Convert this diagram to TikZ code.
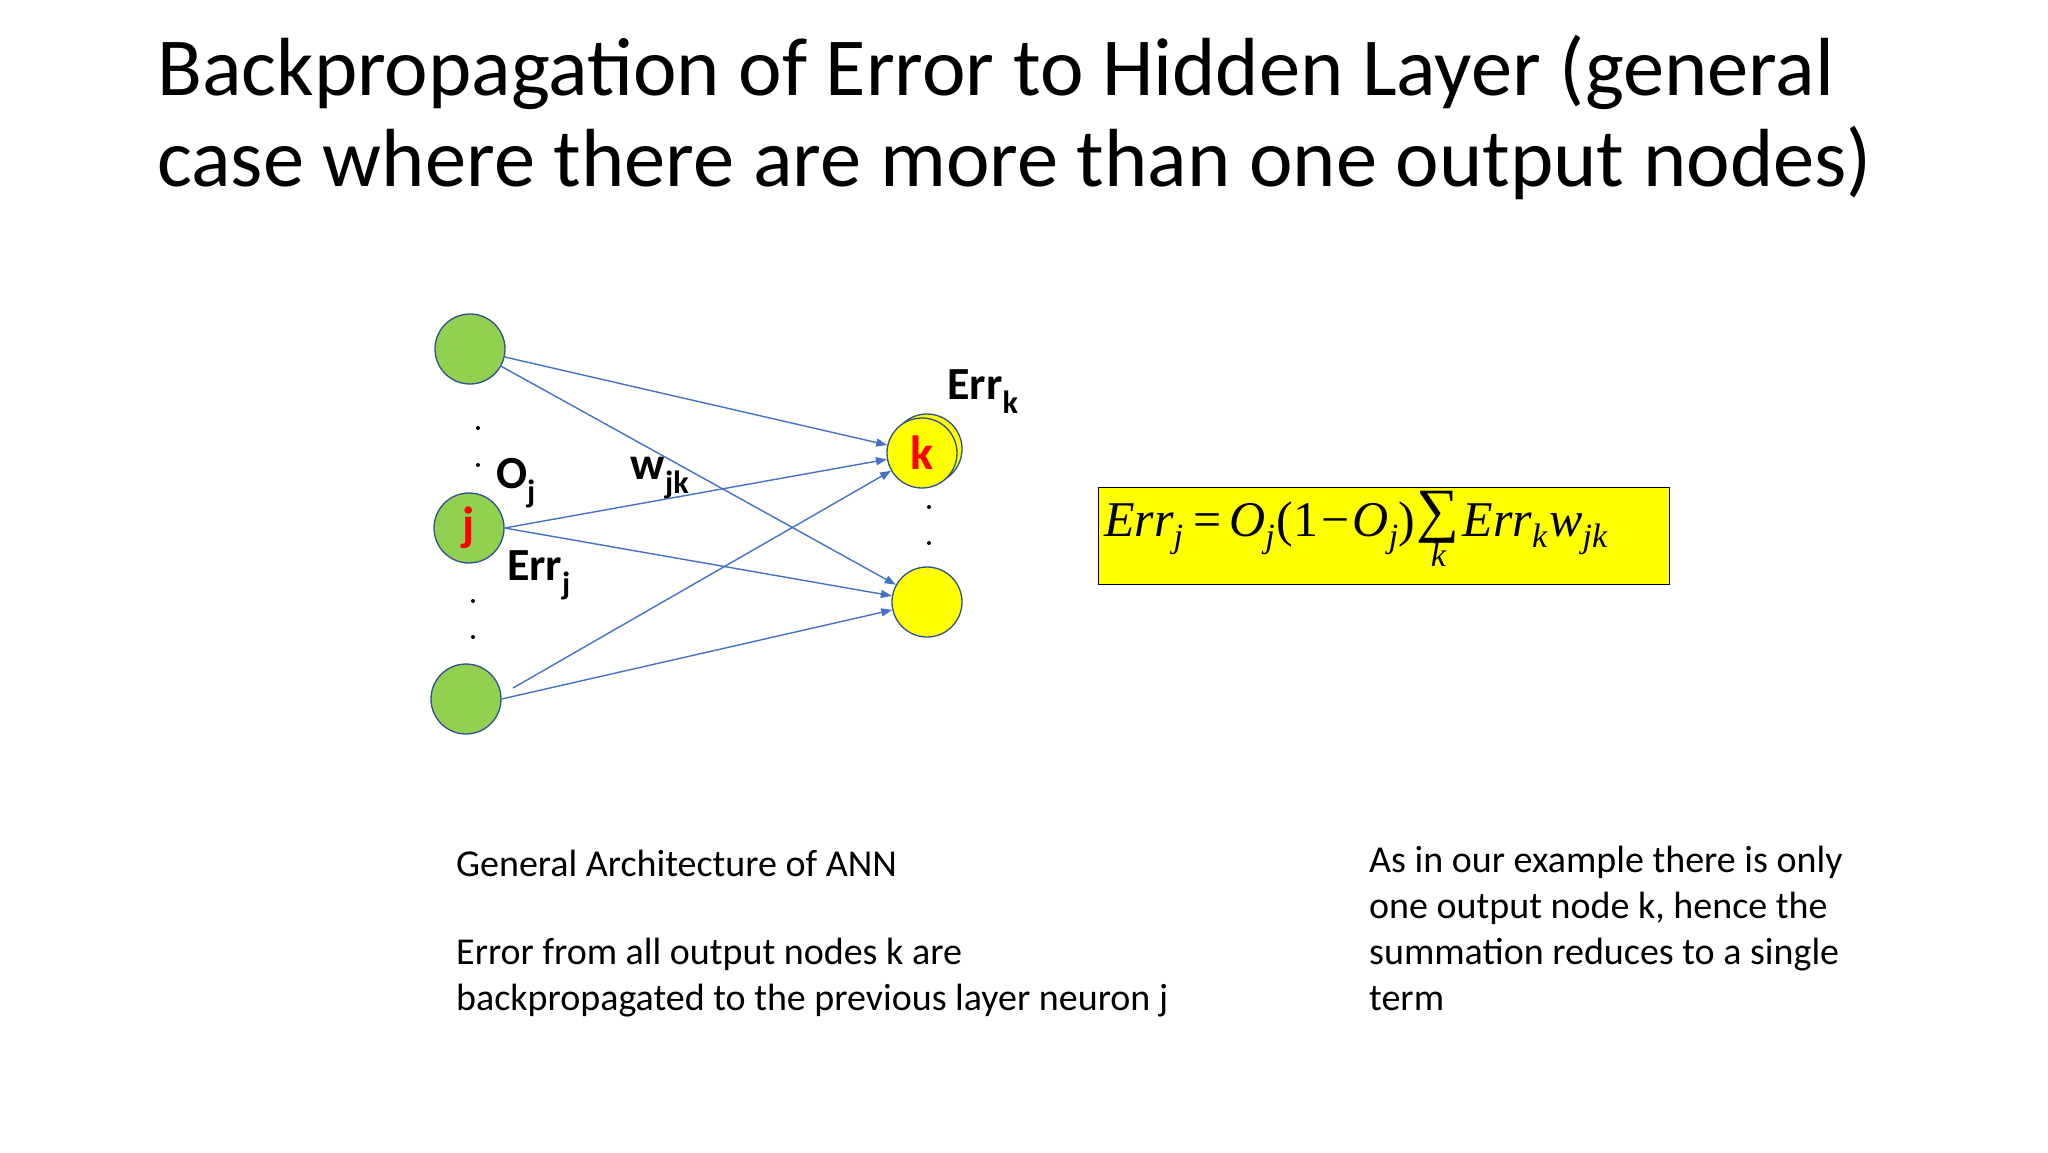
\documentclass[tikz,border=0pt]{standalone}
\usepackage{fontspec}
\setmainfont{Carlito}
\newfontfamily\tms{Liberation Serif}
\usetikzlibrary{arrows.meta}
\definecolor{grn}{RGB}{146,208,80}
\definecolor{edgeb}{RGB}{47,82,143}
\definecolor{arr}{RGB}{68,114,196}
\definecolor{yel}{RGB}{255,255,0}
\newcommand\sbx[1]{\raisebox{-11pt}{\fontsize{34}{34}\selectfont #1}}
\tikzset{
 hid/.style={circle,draw=edgeb,fill=grn,minimum size=70pt,inner sep=0pt,line width=1.3pt},
 outn/.style={circle,draw=edgeb,fill=yel,minimum size=70pt,inner sep=0pt,line width=1.3pt},
 conn/.style={draw=arr,line width=1.4pt,-{Triangle[length=11pt,width=8pt]}},
 lbl/.style={font=\fontsize{46}{50}\selectfont\bfseries,inner sep=0pt},
 body/.style={font=\fontsize{38}{46}\selectfont,anchor=west,inner sep=0pt,align=left},
 dotn/.style={circle,fill=black,minimum size=4pt,inner sep=0pt}
}
\begin{document}
\begin{tikzpicture}[x=1pt,y=-1pt]
\useasboundingbox (0,0) rectangle (2048,1152);
\fill[white] (0,0) rectangle (2048,1152);
\node[anchor=west,inner sep=0pt,font=\fontsize{82.5}{91}\selectfont] (t1) at (157,72) {Backpropagation of Error to Hidden Layer (general};
\node[anchor=west,inner sep=0pt,font=\fontsize{82.5}{91}\selectfont] (t2) at (157,163) {case where there are more than one output nodes)};
\node[hid] (a) at (470,349) {};
\node[hid] (j) at (469,528) {\fontsize{48}{48}\selectfont\bfseries\color{red}j};
\node[hid] (c) at (466,699) {};
\node[outn] (ks) at (927,449) {};
\node[outn] (k) at (922,453) {\fontsize{48}{48}\selectfont\bfseries\color{red}k};
\node[outn] (y) at (927,602) {};
\coordinate (cs) at (513,688);
\foreach \p [count=\i] in {(478,428),(478,465),(473,601),(473,637),(929,507),(929,543)} \node[dotn] (d\i) at \p {};
\node[lbl] (oj) at (516,483) {O\textsubscript{j}};
\node[lbl] (wjk) at (660,478) {w\textsubscript{jk}};
\node[lbl] (errj) at (539,575) {Err\textsubscript{j}};
\node[lbl] (errk) at (983,392) {Err\textsubscript{k}};
\draw[conn] (a) -- (k);
\draw[conn] (a) -- (y);
\draw[conn] (j.east) -- (k);
\draw[conn] (j.east) -- (y);
\draw[conn] (cs) -- (k);
\draw[conn] (c.east) -- (y);
\node[draw=black,fill=yel,line width=1pt,minimum width=571pt,minimum height=97pt,inner sep=0pt] (eq) at (1383.5,535.5) {};
\node[inner sep=0pt,anchor=base west,font=\tms\fontsize{50}{50}\selectfont] (eqt) at (1104,536) {\itshape Err\sbx{j}\hspace{10pt}\upshape=\hspace{8pt}\itshape O\sbx{j}\upshape\hspace{2pt}(1\hspace{3pt}\textminus\hspace{3pt}\itshape O\sbx{j}\upshape)\hspace{2pt}\raisebox{-30pt}{\shortstack{{\fontsize{60}{60}\selectfont ∑}\\[-4pt]{\fontsize{34}{34}\selectfont\itshape k}}}\hspace{3pt}\itshape Err\sbx{k}\hspace{2pt}w\sbx{jk}};
\node[body] (b1) at (456,863) {General Architecture of ANN};
\node[body,anchor=north west] (b2) at (456,938) {Error from all output nodes k are\\backpropagated to the previous layer neuron j};
\node[body,anchor=north west] (b3) at (1369,846) {As in our example there is only\\one output node k, hence the\\summation reduces to a single\\term};
\end{tikzpicture}
\end{document}
